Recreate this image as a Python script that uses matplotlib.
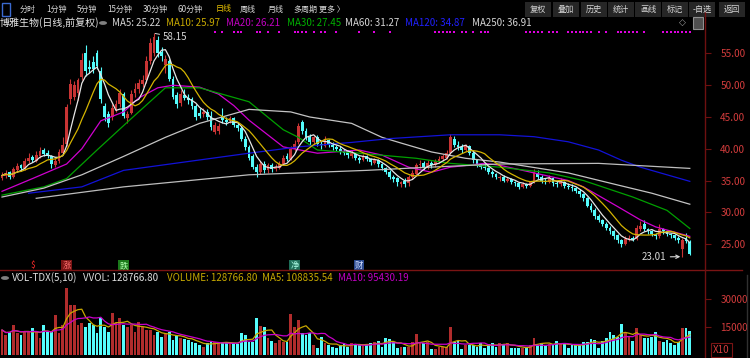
import numpy as np
import pandas as pd
import matplotlib
matplotlib.use("Agg")
import matplotlib.pyplot as plt
from matplotlib.patches import Rectangle, Circle
from matplotlib.lines import Line2D

plt.rcParams["font.family"] = ["Noto Sans CJK SC", "DejaVu Sans"]

W, H = 750, 358

# daily candles
opens = [35.4, 35.7, 36.3, 35.6, 36.7, 37.4, 36.9, 38.0, 38.7, 38.1,
         38.9, 39.8, 39.4, 38.8, 37.5, 38.0, 39.4, 40.8, 47.8, 48.2,
         48.8, 51.3, 55.0, 52.9, 53.6, 55.0, 52.2, 46.8, 45.4, 45.0,
         46.4, 47.0, 48.6, 44.8, 45.6, 48.8, 49.4, 50.2, 50.8, 53.8,
         55.0, 57.2, 55.2, 53.2, 53.8, 51.0, 48.4, 47.2, 48.4, 48.0,
         47.8, 46.8, 45.6, 45.4, 45.8, 45.2, 42.6, 42.8, 45.2, 44.6,
         44.4, 44.8, 43.8, 43.2, 41.6, 40.2, 38.8, 37.2, 36.4, 37.6,
         36.6, 37.4, 36.8, 37.0, 37.6, 38.8, 38.4, 40.0, 41.0, 44.2,
         42.8, 41.8, 41.0, 41.8, 40.8, 40.4, 41.4, 40.6, 40.2, 40.0,
         39.6, 39.6, 38.8, 39.2, 38.6, 38.2, 38.8, 38.4, 37.8, 38.3,
         37.6, 37.0, 36.4, 35.6, 35.4, 34.4, 35.0, 34.6, 35.6, 36.0,
         37.4, 37.8, 37.0, 37.8, 37.4, 38.0, 38.4, 38.6, 39.4, 41.6,
         40.6, 40.2, 39.8, 40.4, 39.4, 38.2, 37.6, 37.2, 37.0, 36.4,
         36.0, 35.4, 35.6, 35.0, 35.2, 34.8, 34.6, 34.0, 34.4, 34.2,
         34.8, 36.2, 35.6, 35.0, 34.8, 35.4, 34.6, 34.4, 34.8, 34.2,
         34.0, 33.8, 33.4, 32.8, 32.2, 31.0, 30.4, 29.4, 28.8, 28.2,
         27.6, 27.0, 26.4, 25.6, 25.0, 25.8, 26.0, 25.8, 27.4, 28.2,
         27.4, 27.0, 26.6, 26.2, 27.4, 27.0, 26.6, 26.4, 26.0, 24.2,
         26.0, 25.3]
closes = [35.8, 36.2, 35.6, 36.8, 37.3, 36.9, 38.0, 38.6, 38.2, 39.0,
          39.6, 39.2, 38.9, 37.6, 38.0, 39.5, 40.6, 46.5, 50.2, 50.0,
          50.8, 54.0, 52.2, 52.5, 52.6, 53.0, 47.8, 45.0, 44.0, 46.4,
          47.0, 48.8, 45.2, 45.4, 48.6, 49.4, 50.4, 50.8, 53.8, 56.6,
          57.6, 55.0, 54.6, 54.2, 51.0, 48.2, 47.0, 48.6, 48.0, 47.6,
          46.8, 45.0, 45.2, 45.8, 45.0, 43.4, 43.8, 43.6, 44.6, 44.2,
          44.8, 43.8, 43.2, 41.6, 40.2, 38.6, 37.2, 36.4, 37.6, 36.6,
          37.4, 36.8, 37.2, 37.6, 38.6, 38.4, 40.0, 40.8, 43.6, 42.8,
          41.8, 41.0, 41.8, 40.8, 40.6, 41.6, 40.6, 40.2, 40.0, 39.6,
          39.4, 39.0, 39.4, 38.6, 38.2, 38.8, 38.4, 37.9, 38.3, 37.6,
          37.0, 36.4, 35.6, 35.2, 34.8, 34.8, 34.4, 35.6, 36.2, 37.4,
          37.6, 37.0, 37.8, 37.4, 38.0, 38.4, 38.8, 39.4, 41.8, 40.6,
          40.2, 39.8, 40.4, 39.4, 38.2, 37.6, 37.2, 37.0, 36.4, 36.0,
          35.6, 35.6, 35.0, 35.2, 34.8, 34.6, 34.0, 34.4, 34.2, 34.8,
          36.4, 35.6, 35.0, 34.8, 35.4, 34.6, 34.4, 34.8, 34.2, 34.0,
          33.8, 33.4, 32.8, 32.2, 31.0, 30.4, 29.4, 28.8, 28.2, 27.6,
          27.0, 26.2, 25.6, 25.0, 25.8, 26.0, 25.7, 27.6, 27.8, 27.4,
          27.0, 26.6, 26.2, 27.4, 27.0, 26.6, 26.4, 26.0, 25.6, 25.6,
          25.4, 23.5]
highs = [36.3, 36.6, 36.5, 37.2, 37.8, 37.6, 38.5, 39.4, 39.0, 39.6,
         40.3, 40.1, 39.8, 39.0, 38.6, 39.9, 41.8, 47.0, 51.0, 50.6,
         51.2, 55.0, 56.3, 54.0, 54.6, 55.5, 52.8, 47.2, 46.0, 47.0,
         47.6, 49.4, 49.0, 46.0, 49.2, 50.4, 51.0, 51.6, 54.6, 57.4,
         58.15, 57.8, 56.0, 54.8, 54.2, 51.4, 49.0, 49.2, 49.4, 48.6,
         48.2, 47.0, 46.4, 46.4, 46.2, 46.0, 44.2, 44.0, 46.4, 45.0,
         45.2, 45.0, 44.2, 43.6, 42.0, 40.6, 39.2, 37.6, 38.0, 38.0,
         37.8, 37.8, 37.6, 38.0, 39.0, 39.4, 40.4, 41.4, 44.0, 44.6,
         43.2, 42.4, 42.0, 42.2, 41.2, 42.0, 41.6, 41.0, 40.6, 40.4,
         40.0, 39.8, 39.8, 39.4, 38.8, 39.2, 39.0, 38.6, 38.6, 38.4,
         37.8, 37.2, 36.6, 35.8, 35.6, 35.0, 35.4, 35.8, 36.6, 37.8,
         38.2, 38.0, 38.2, 38.0, 38.4, 38.8, 39.2, 39.8, 42.4, 42.0,
         41.2, 40.8, 40.8, 40.6, 39.6, 38.4, 37.8, 37.6, 37.2, 36.6,
         36.2, 35.8, 35.8, 35.6, 35.4, 35.0, 34.8, 34.8, 34.6, 35.0,
         36.8, 36.6, 35.8, 35.4, 35.8, 35.6, 35.0, 35.4, 35.0, 34.6,
         34.4, 34.0, 33.6, 33.0, 32.4, 31.4, 30.6, 29.8, 29.0, 28.4,
         27.8, 27.2, 26.6, 25.8, 26.2, 26.4, 26.2, 28.0, 28.6, 28.8,
         27.6, 27.2, 26.8, 28.2, 27.6, 27.2, 26.8, 26.6, 26.2, 26.0,
         26.8, 25.6]
lows = [35.1, 35.4, 35.3, 35.4, 36.4, 36.5, 36.7, 37.8, 37.9, 37.9,
        38.6, 38.8, 38.5, 36.9, 37.1, 37.8, 39.2, 40.5, 47.0, 47.6,
        47.6, 50.8, 51.5, 52.0, 52.0, 52.6, 47.2, 44.4, 43.4, 44.6,
        45.8, 46.6, 44.8, 44.0, 45.4, 48.2, 48.8, 49.8, 50.4, 53.4,
        54.6, 54.4, 53.8, 52.0, 50.6, 47.8, 46.4, 46.8, 47.6, 47.0,
        46.2, 44.6, 44.8, 45.0, 44.6, 43.0, 42.4, 42.4, 44.0, 43.8,
        44.0, 43.4, 42.8, 41.2, 39.8, 38.2, 36.8, 35.5, 36.0, 36.2,
        36.2, 36.4, 36.5, 36.8, 37.4, 38.0, 38.2, 39.6, 40.8, 42.4,
        41.4, 40.4, 40.6, 40.4, 40.0, 40.2, 40.2, 39.8, 39.6, 39.2,
        39.0, 38.6, 38.6, 38.2, 37.8, 38.0, 38.0, 37.5, 37.6, 37.2,
        36.6, 36.0, 35.2, 34.8, 34.2, 34.0, 34.0, 34.2, 35.2, 35.8,
        37.0, 36.6, 36.8, 37.0, 37.2, 37.8, 38.0, 38.4, 39.2, 40.2,
        39.8, 39.4, 39.6, 39.0, 37.8, 37.2, 36.8, 36.6, 36.0, 35.6,
        35.2, 35.0, 34.8, 34.8, 34.4, 34.2, 33.6, 33.8, 33.8, 34.0,
        34.6, 35.2, 34.6, 34.4, 34.6, 34.2, 34.0, 34.2, 33.8, 33.6,
        33.4, 33.0, 32.4, 31.8, 30.8, 30.0, 29.0, 28.4, 27.8, 27.2,
        26.6, 25.8, 25.2, 24.5, 24.8, 25.4, 25.4, 25.6, 27.0, 27.0,
        26.6, 26.2, 25.8, 26.0, 26.6, 26.2, 26.0, 25.6, 25.2, 23.01,
        25.2, 23.3]
# volume in units of 10 (axis shows X10)
volumes = [13400, 10700, 12300, 16000, 11800, 10700, 12300, 12300, 14400, 12300,
           9100, 16000, 12300, 12300, 21400, 11800, 16000, 35900, 26800, 26800,
           16000, 17100, 15000, 17100, 16000, 11800, 19800, 15000, 12300, 22500,
           17100, 19800, 16000, 15000, 16000, 12300, 17700, 15000, 13400, 13400,
           10700, 12300, 9800, 11200, 12300, 8000, 10700, 9100, 8600, 8000,
           7100, 6300, 5400, 4500, 6300, 7100, 7100, 6300, 6300, 7100,
           6300, 6300, 5800, 11600, 10700, 7100, 7100, 19800, 15500, 15000,
           9100, 7500, 6400, 8000, 7100, 7100, 21900, 15000, 18700, 12000,
           10700, 11600, 5400, 3600, 9800, 6300, 5100, 4500, 3600, 5400,
           6300, 4500, 6600, 5400, 5400, 5400, 5400, 6300, 6800, 7500,
           4500, 8900, 8600, 6800, 3600, 4500, 4500, 4500, 7100, 11100,
           6300, 6300, 6800, 3200, 3200, 4500, 4500, 4500, 15200, 7100,
           7500, 3200, 5400, 5400, 5400, 4500, 6300, 4000, 5700, 6300,
           4500, 6300, 5700, 6300, 4000, 3600, 3600, 4000, 4500, 5400,
           9300, 5400, 6300, 5400, 5700, 5700, 7500, 5700, 5700, 4000,
           5400, 5400, 5700, 6800, 6800, 8600, 8000, 4000, 7500, 8900,
           12100, 10700, 9800, 16400, 11600, 9800, 7500, 14600, 10700, 8900,
           8900, 9800, 12500, 7500, 6800, 8000, 6300, 5400, 7100, 14600,
           14300, 12877]

# slower averages at sample candles
ma20_idx = [0, 8, 17, 21, 26, 32, 36, 41, 45, 52, 57, 61, 65, 74, 83, 94, 100,
            107, 113, 118, 127, 131, 140, 149, 153, 162, 168, 172, 181]
ma20_val = [33.3, 35.3, 37.6, 40.0, 44.4, 45.8, 48.0, 49.6, 50.0, 49.7, 48.6,
            46.8, 44.5, 40.3, 39.3, 39.8, 39.0, 37.1, 36.3, 37.1, 37.7, 37.4,
            36.2, 35.0, 34.0, 30.9, 28.8, 27.7, 26.21]
ma30_idx = [0, 11, 17, 25, 33, 43, 52, 65, 74, 78, 83, 94, 109, 118, 131, 144,
            153, 166, 175, 181]
ma30_val = [32.7, 34.0, 35.3, 39.8, 44.2, 49.6, 49.6, 47.4, 43.0, 41.8, 39.8,
            39.3, 38.5, 37.7, 37.1, 36.2, 35.0, 32.4, 30.3, 27.45]
ma60_idx = [0, 11, 21, 32, 43, 52, 65, 76, 81, 92, 100, 105, 113, 122, 131,
            149, 162, 171, 181]
ma60_val = [32.4, 33.8, 35.9, 38.8, 41.8, 44.0, 46.2, 45.8, 45.0, 44.0, 41.8,
            40.9, 39.5, 38.5, 37.9, 36.2, 34.3, 33.0, 31.27]
ma120_idx = [7, 21, 32, 65, 78, 92, 102, 118, 131, 140, 149, 157, 163, 168, 181]
ma120_val = [33.0, 34.0, 36.6, 39.3, 40.3, 41.0, 41.6, 42.2, 42.2, 41.9, 41.1,
             39.8, 38.2, 37.1, 34.87]
ma250_idx = [9, 32, 65, 96, 109, 131, 157, 181]
ma250_val = [32.2, 34.0, 35.9, 36.6, 37.0, 37.6, 37.7, 36.91]

price_ticks = [25, 30, 35, 40, 45, 50, 55]
vol_ticks = [15000, 30000]

event_idx = [8, 17, 32, 77, 94]
event_txt = ["$", "涨", "跌", "净", "财"]
info_idx = [56, 58, 61, 62, 63, 67, 68, 70, 73, 77, 78, 79, 80, 82, 84, 85, 88,
            94, 98, 102, 114, 115, 116, 117, 118, 119, 121, 122, 124, 126, 127,
            128, 138, 139, 140, 141, 142, 144, 145, 146, 149, 150, 151, 152, 153,
            154, 155, 157, 159, 162, 163, 164, 165, 166, 167, 169, 174, 175, 176,
            177, 178, 179, 180, 181]

tabs = ["分时", "1分钟", "5分钟", "15分钟", "30分钟", "60分钟", "日线", "周线",
        "月线", "多周期", "更多 〉"]
tab_x = [20, 46, 77, 107, 143, 178, 216, 240, 268, 293, 319]
buttons = ["复权", "叠加", "历史", "统计", "画线", "标记", "-自选", "返回"]
button_x = [527, 555, 583, 610, 637, 664, 691, 721]

RED = "#c83434"
CYAN = "#54fcfc"
AXRED = "#d23c3c"
DARKRED = "#6e1010"

fig = plt.figure(figsize=(W / 100, H / 100), dpi=100, facecolor="black")


def px(x, y):
    return x / W, 1 - y / H


def ftext(x, y, s, color, size, **kw):
    fx, fy = px(x, y)
    kw.setdefault("ha", "left")
    fig.text(fx, fy, s, color=color, fontsize=size, va="center", **kw)


ax = fig.add_axes([0, 88 / H, 705 / W, 240 / H])
axv = fig.add_axes([0, 0, 705 / W, 88 / H])
for a in (ax, axv):
    a.set_facecolor("black")
    for s in a.spines.values():
        s.set_visible(False)
    a.set_xlim(-0.53, 185.0)
    a.set_xticks([])
    a.yaxis.tick_right()
    a.tick_params(axis="y", colors=DARKRED, labelcolor=AXRED, length=4,
                  width=0.8, pad=7, labelsize=7.2)

ax.set_ylim(20.91, 58.70)
axv.set_ylim(-1607, 45536)

idx = np.arange(len(closes))
o = np.array(opens)
c = np.array(closes)
up = c >= o
col = np.where(up, RED, CYAN)

# candles
ax.vlines(idx, lows, highs, colors=col, lw=0.8, zorder=2)
ax.bar(idx, np.maximum(np.abs(c - o), 0.12), bottom=np.minimum(o, c), width=0.7,
       color=col, lw=0, zorder=3)

# moving averages
cs = pd.Series(closes)
ax.plot(idx, cs.rolling(5, min_periods=1).mean(), color="#e6e6e6", lw=0.9, zorder=5)
ax.plot(idx, cs.rolling(10, min_periods=1).mean(), color="#d4b400", lw=0.9, zorder=5)
ax.plot(ma20_idx, ma20_val, color="#d000d0", lw=0.9, zorder=4)
ax.plot(ma30_idx, ma30_val, color="#00a000", lw=0.9, zorder=4)
ax.plot(ma60_idx, ma60_val, color="#c4c4c4", lw=0.9, zorder=4)
ax.plot(ma120_idx, ma120_val, color="#1212d8", lw=0.9, zorder=4)
ax.plot(ma250_idx, ma250_val, color="#bdbdbd", lw=0.9, zorder=4)

ax.set_yticks(price_ticks)
ax.set_yticklabels([f"{t:.2f}" for t in price_ticks])

# high / low marks
ax.annotate("58.15", xy=(40.3, 58.15), xytext=(42.2, 57.6), color="#d8d8d8",
            fontsize=7, va="center", ha="left",
            arrowprops=dict(arrowstyle="-", color="#d8d8d8", lw=0.7, shrinkA=0, shrinkB=0))
ax.annotate("23.01", xy=(178.5, 23.01), xytext=(168.3, 22.95), color="#d8d8d8",
            fontsize=7, va="center", ha="left",
            arrowprops=dict(arrowstyle="->", color="#d8d8d8", lw=0.8, shrinkA=1, shrinkB=0,
                            mutation_scale=6))

# info-mine dots along the top
ax.scatter(info_idx, [58.4] * len(info_idx), marker="s", s=2.2, color="#e000e0",
           lw=0, zorder=6)

# event tags
ev_style = {"$": ("black", "#ff2a2a"), "涨": ("#7a1414", "#ff7070"),
            "跌": ("#1b7a1b", "#b0ffb0"), "净": ("#1d6e58", "#b0ffe8"),
            "财": ("#2a4a90", "#d0dcff")}
for i, t in zip(event_idx, event_txt):
    bg, fg = ev_style[t]
    ax.text(i, 21.55, t, color=fg, fontsize=6, ha="center", va="center", zorder=7,
            bbox=dict(boxstyle="square,pad=0.12", fc=bg, ec="none"))

# volume
axv.bar(idx, volumes, width=0.7, color=np.where(up, "#b02c2c", CYAN), lw=0)
vs = pd.Series(volumes)
axv.plot(idx, vs.rolling(5, min_periods=1).mean(), color="#c8a800", lw=0.9)
axv.plot(idx, vs.rolling(10, min_periods=1).mean(), color="#c800c8", lw=0.9)
axv.set_yticks(vol_ticks)
axv.set_yticklabels([str(t) for t in vol_ticks])

# separators
fig.add_artist(Line2D([0, 742 / W], [1 - 270 / H] * 2, color="#7a1414", lw=1))
fig.add_artist(Line2D([705 / W] * 2, [0, 1 - 12 / H], color=DARKRED, lw=1))
fig.add_artist(Line2D([747 / W] * 2, [0, 1 - 275 / H], color="#303030", lw=1))

# toolbar
fig.add_artist(Rectangle(px(2, 16), 8 / W, 13 / H, transform=fig.transFigure,
                         fc="none", ec="#3a6ad0", lw=1))
for t, x in zip(tabs, tab_x):
    ftext(x, 9, t, "#e8c000" if t == "日线" else "#d6d6d6", 5.8)
for t, x in zip(buttons, button_x):
    fig.add_artist(Rectangle(px(x - 2, 17), 26 / W, 15 / H, transform=fig.transFigure,
                             fc="#262626", ec="none"))
    ftext(x + 11, 9.5, t, "#d6d6d6", 5.9, ha="center")

# legend row
ftext(0, 23, "博雅生物(日线,前复权)", "#e6e6e6", 7.2)
fig.add_artist(Circle(px(103, 23), 4 / W, transform=fig.transFigure,
                      fc="#808080", ec="none"))
legend = [(112, "MA5: 25.22", "#d6d6d6"), (166, "MA10: 25.97", "#c8aa00"),
          (226, "MA20: 26.21", "#c000c0"), (287, "MA30: 27.45", "#00b000"),
          (345, "MA60: 31.27", "#d6d6d6"), (405, "MA120: 34.87", "#2020ff"),
          (472, "MA250: 36.91", "#d6d6d6")]
for x, t, cl in legend:
    ftext(x, 23, t, cl, 7)
ftext(679, 22, "◇", "#a0a0a0", 6.5, family="DejaVu Sans")
fig.add_artist(Rectangle(px(693, 29), 10 / W, 12 / H, transform=fig.transFigure,
                         fc="#505050", ec="#909090", lw=0.8))

# volume legend
fig.add_artist(Circle(px(5, 278), 4 / W, transform=fig.transFigure,
                      fc="#808080", ec="none"))
vleg = [(12, "VOL-TDX(5,10)", "#e0e0e0"), (83, "VVOL: 128766.80", "#e0e0e0"),
        (167, "VOLUME: 128766.80", "#c8aa00"), (262, "MA5: 108835.54", "#c8aa00"),
        (338, "MA10: 95430.19", "#c000c0")]
for x, t, cl in vleg:
    ftext(x, 278, t, cl, 7)
ftext(713, 350, "X10", AXRED, 7,
      bbox=dict(boxstyle="square,pad=0.2", fc="black", ec="#7a1414", lw=0.8))

fig.savefig("out.png", dpi=100, facecolor="black")
